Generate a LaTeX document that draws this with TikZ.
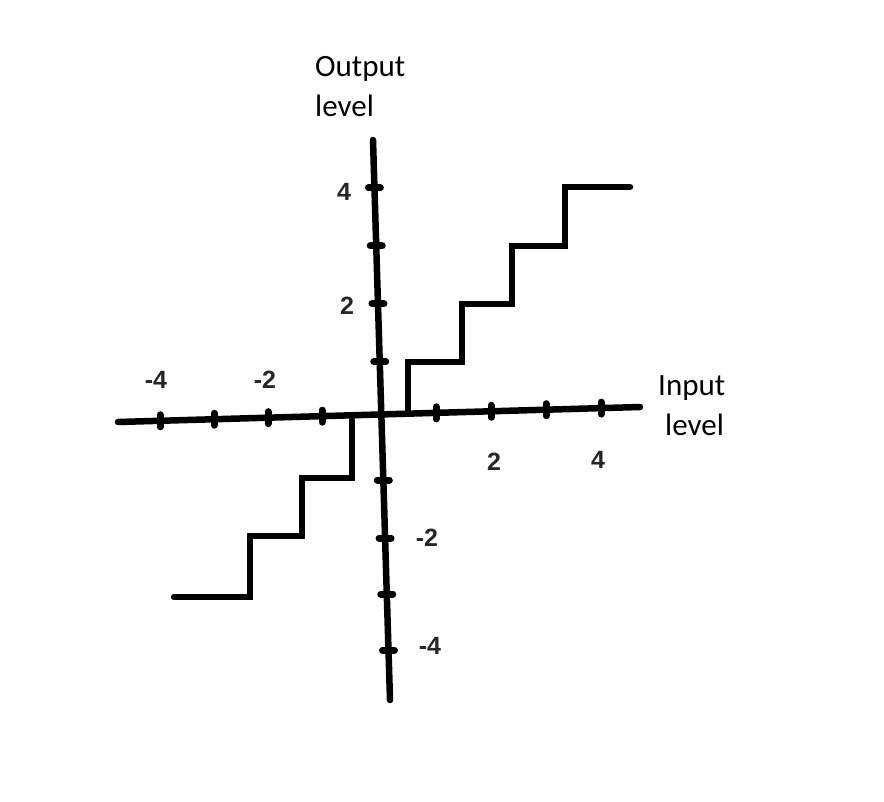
\documentclass[tikz,border=0pt]{standalone}
\usepackage{fontspec}
\setmainfont{Carlito}
\newfontfamily\tickfont{Liberation Sans}
\begin{document}
\begin{tikzpicture}[x=1pt,y=-1pt,
  thick line/.style={line width=6.5pt,line cap=round,line join=miter},
  tickmark/.style={line width=7pt,line cap=round},
  lbl/.style={font=\fontsize{31}{40}\selectfont,anchor=west,align=left,inner sep=0pt},
  num/.style={font=\tickfont\bfseries\fontsize{25}{28}\selectfont,inner sep=0pt,text=black!85}]
\useasboundingbox (0,0) rectangle (884,802);
% axes
\coordinate (xl) at (118,422); \coordinate (xr) at (640,407);
\coordinate (yt) at (373,140); \coordinate (yb) at (390,700);
\draw[thick line] (xl) -- (xr);
\draw[thick line] (yt) -- (yb);
% x ticks
\foreach \x in {160,214,268,322,436,491,546,601}{
  \pgfmathsetmacro\yy{422-(\x-118)*15/522}
  \draw[tickmark] (\x,\yy-6) -- (\x,\yy+6);}
% y ticks
\foreach \y in {188,246,304,362,480,538,594,650}{
  \pgfmathsetmacro\xx{373+(\y-140)*17/560}
  \draw[tickmark] (\xx-6,\y) -- (\xx+6,\y);}
% staircases
\draw[thick line] (408,410) -- (408,362) -- (462,362) -- (462,304) -- (512,304) -- (512,246) -- (565,246) -- (565,187) -- (630,187);
\draw[thick line] (352,420) -- (352,478) -- (302,478) -- (302,536) -- (250,536) -- (250,597) -- (174,597);
% labels
\node[lbl] (out) at (315,87) {Output\\level};
\node[lbl] (in) at (658,406) {Input\\ \ level};
\node[num] (n1) at (156,380) {-4};
\node[num] (n2) at (265,380) {-2};
\node[num] (n3) at (494,462) {2};
\node[num] (n4) at (598,460) {4};
\node[num] (n5) at (344,192) {4};
\node[num] (n6) at (347,306) {2};
\node[num] (n7) at (427,538) {-2};
\node[num] (n8) at (430,646) {-4};
\end{tikzpicture}
\end{document}
